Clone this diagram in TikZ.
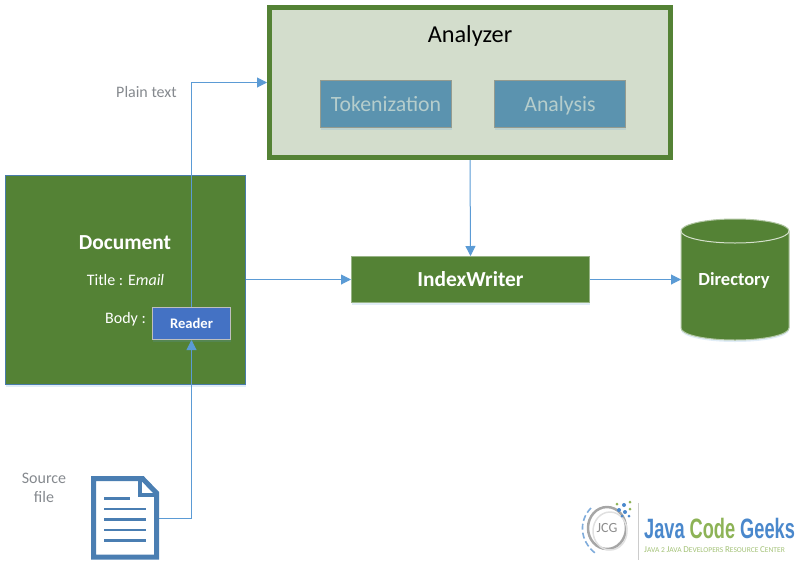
\documentclass[tikz,border=0pt]{standalone}
\usepackage{fontspec}
\setmainfont{Carlito}
\newfontfamily\logofont{Liberation Sans}
\usetikzlibrary{arrows.meta,shadows}
\definecolor{docgreen}{HTML}{548235}
\definecolor{palegreen}{HTML}{D3DDCC}
\definecolor{tealbox}{HTML}{5B93AF}
\definecolor{tealtext}{HTML}{B5CDCC}
\definecolor{linkblue}{HTML}{5B9BD5}
\definecolor{readerblue}{HTML}{4472C4}
\definecolor{iconblue}{HTML}{4A7EB2}
\definecolor{greytext}{HTML}{85898E}
\definecolor{logoblue}{HTML}{4A88CC}
\definecolor{logogreen}{HTML}{8DB356}
\newcommand{\fs}[1]{\fontsize{#1}{#1}\selectfont}
\tikzset{
  softshadow/.style={general shadow={shadow xshift=.5pt,shadow yshift=-2pt,fill=linkblue,opacity=.18}},
  box/.style={rectangle,inner sep=0pt,softshadow},
  greenbox/.style={box,fill=docgreen,draw=#1,line width=1pt},
  greenbox/.default={docgreen!60!white},
  stepbox/.style={box,fill=tealbox,draw=black!30!palegreen,line width=1pt,minimum width=131pt,minimum height=47pt,text=tealtext,font=\fs{21.8},text height=18pt,text depth=4pt},
  link/.style={draw=linkblue,line width=1pt,-{Triangle[length=10pt,width=10pt,fill=linkblue]}},
  whitebold/.style={text=white,font=\bfseries\fs{#1},inner sep=0pt},
  whitetext/.style={text=white,font=\fs{16},inner sep=0pt},
  note/.style={text=greytext,font=\fs{16},inner sep=0pt,align=center},
  iconline/.style={draw=iconblue,line width=#1},
}
\begin{document}
\begin{tikzpicture}[x=1pt,y=-1pt]
\useasboundingbox (0,0) rectangle (799,563);
% analyzer
\node (analyzer) [box,fill=palegreen,draw=docgreen,line width=5pt,minimum width=401pt,minimum height=150pt] at (470,82.5) {};
\node (analyzerlabel) [text=black,font=\fs{24.3},inner sep=0pt] at (470,36.5) {Analyzer};
\node (token) [stepbox] at (386,104) {Tokenization};
\node (analysis) [stepbox] at (560,104) {Analysis};
% document
\node (document) [box,fill=docgreen,draw=linkblue!80!black,line width=1pt,minimum width=240pt,minimum height=209pt] at (125.5,280) {};
\node (doclabel) [whitebold=21.4] at (125,243) {Document};
\node (titlelabel) [whitetext] at (125.5,280) {Title : E\textit{mail}};
\node (bodylabel) [whitetext] at (125.5,319.5) {Body :};
\node (reader) [greenbox=white!75!black,fill=readerblue,minimum width=78pt,minimum height=32pt,whitebold=14.6] at (191.5,323.5) {Reader};
% index writer and directory
\node (writer) [greenbox,minimum width=238pt,minimum height=46pt,whitebold=21.4] at (470.5,279.5) {IndexWriter};
\node (directory) [minimum width=108pt,minimum height=121pt,inner sep=0pt,outer sep=0pt] at (735,279.5) {};
\path [fill=linkblue,opacity=.18] (681,231) -- (681,330) .. controls (681,336.6) and (705,342) .. (735,342) .. controls (765,342) and (789,336.6) .. (789,330) -- (789,231) -- cycle;
\draw [draw=docgreen!45!white,fill=docgreen,line width=1pt] (681,231) -- (681,328) .. controls (681,334.6) and (705,340) .. (735,340) .. controls (765,340) and (789,334.6) .. (789,328) -- (789,231) .. controls (789,224.4) and (765,219) .. (735,219) .. controls (705,219) and (681,224.4) .. (681,231) -- cycle;
\draw [draw=white!75!docgreen,line width=1pt] (681,231) .. controls (681,237.6) and (705,243) .. (735,243) .. controls (765,243) and (789,237.6) .. (789,231);
\node (dirlabel) [whitebold=18.5] at (734,280.5) {Directory};
% source file icon
\node (source) [minimum width=68pt,minimum height=84pt,inner sep=0pt] at (125,518) {};
\draw [iconblue,line width=5pt,line join=miter] (93.5,478.5) -- (142.5,478.5) -- (156.5,493) -- (156.5,557) -- (93.5,557) -- cycle;
\draw [iconblue,line width=4pt] (140,479) -- (140,495) -- (157,495);
\draw [iconline=3pt] (104,498) -- (130,498);
\draw [iconline=2.2pt] (104,509) -- (146,509);
\draw [iconline=2.2pt] (104,519.5) -- (146,519.5);
\draw [iconline=2.2pt] (104,530) -- (146,530);
\draw [iconline=2.2pt] (104,540.5) -- (146,540.5);
% notes
\node (plain) [note] at (146.5,92) {Plain text};
\node (srcnote) [note] at (44,488) {Source\\[3.5pt]file};
% connectors
\draw [link] (source.east) -| (reader.south);
\draw [link] (reader.north) |- (analyzer.west);
\draw [link] (document.east |- writer.west) -- (writer.west);
\draw [link] (analyzer.south) -- (writer.north);
\draw [link] (writer.east) -- (directory.west);
% logo
\draw [black!35,line width=2.5pt] (607,528) ellipse (19 and 21);
\draw [black!12,line width=1.5pt] (610,531) ellipse (17 and 19);
\node (jcg) [text=black!45,font=\fs{14},inner sep=0pt] at (607,528) {JCG};
\draw [logoblue!70,line width=1.6pt,dash pattern=on 6pt off 3pt] (591,508) .. controls (579,520) and (579,540) .. (595,553);
\fill [logoblue] (619,510) circle (2) (624,505) circle (2) (625,512) circle (2) (629,516) circle (1.5) (622,516) circle (1.5);
\fill [logogreen] (617,504) circle (1.5) (630,502) circle (1.5) (630,509) circle (1.5);
\draw [black!20,line width=1pt] (638,503) -- (638,560);
\node (brand) [anchor=west,inner sep=0pt,font=\logofont\bfseries\fs{28},xscale=.65] at (644,528) {\textcolor{logoblue}{Java} \textcolor{logogreen}{Code} \textcolor{logoblue}{Geeks}};
\node (tagline) [anchor=west,inner sep=0pt,text=logogreen!80!white,font=\fs{9}] at (644,550) {J\fs{7.5}AVA 2 \fs{9}J\fs{7.5}AVA \fs{9}D\fs{7.5}EVELOPERS \fs{9}R\fs{7.5}ESOURCE \fs{9}C\fs{7.5}ENTER};
\end{tikzpicture}
\end{document}
